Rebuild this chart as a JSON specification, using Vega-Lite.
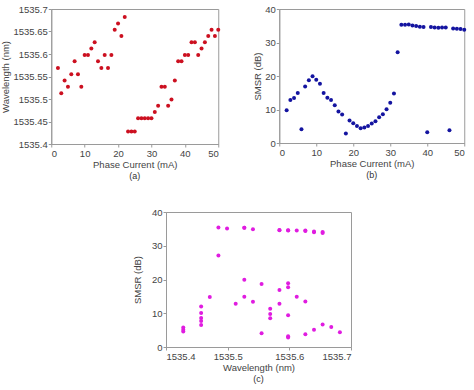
{
  "$schema": "https://vega.github.io/schema/vega-lite/v6.json",
  "padding": {"left": 0, "top": 3, "right": 3, "bottom": 3},
  "background": "white",
  "data": {"values": [
    {"current": 2, "wl": 1535.569, "smsr": 9.8},
    {"current": 3, "wl": 1535.513, "smsr": 12.8},
    {"current": 4, "wl": 1535.541, "smsr": 13.4},
    {"current": 5, "wl": 1535.527, "smsr": 14.9},
    {"current": 6, "wl": 1535.555, "smsr": 4.1},
    {"current": 7, "wl": 1535.584, "smsr": 16.9},
    {"current": 8, "wl": 1535.555, "smsr": 18.7},
    {"current": 9, "wl": 1535.527, "smsr": 19.9},
    {"current": 10, "wl": 1535.598, "smsr": 18.9},
    {"current": 11, "wl": 1535.598, "smsr": 17.7},
    {"current": 12, "wl": 1535.612, "smsr": 14.9},
    {"current": 13, "wl": 1535.626, "smsr": 13.5},
    {"current": 14, "wl": 1535.584, "smsr": 12.8},
    {"current": 15, "wl": 1535.569, "smsr": 11.3},
    {"current": 16, "wl": 1535.598, "smsr": 9.4},
    {"current": 17, "wl": 1535.569, "smsr": 8.5},
    {"current": 18, "wl": 1535.598, "smsr": 2.8},
    {"current": 19, "wl": 1535.654, "smsr": 6.7},
    {"current": 20, "wl": 1535.668, "smsr": 5.9},
    {"current": 21, "wl": 1535.640, "smsr": 5.1},
    {"current": 22, "wl": 1535.682, "smsr": 4.4},
    {"current": 23, "wl": 1535.428, "smsr": 4.6},
    {"current": 24, "wl": 1535.428, "smsr": 5.1},
    {"current": 25, "wl": 1535.428, "smsr": 5.8},
    {"current": 26, "wl": 1535.457, "smsr": 6.5},
    {"current": 27, "wl": 1535.457, "smsr": 7.7},
    {"current": 28, "wl": 1535.457, "smsr": 8.6},
    {"current": 29, "wl": 1535.457, "smsr": 10.1},
    {"current": 30, "wl": 1535.457, "smsr": 12.0},
    {"current": 31, "wl": 1535.471, "smsr": 14.8},
    {"current": 32, "wl": 1535.485, "smsr": 27.1},
    {"current": 33, "wl": 1535.527, "smsr": 35.3},
    {"current": 34, "wl": 1535.527, "smsr": 35.3},
    {"current": 35, "wl": 1535.485, "smsr": 35.4},
    {"current": 36, "wl": 1535.499, "smsr": 35.1},
    {"current": 37, "wl": 1535.541, "smsr": 34.9},
    {"current": 38, "wl": 1535.584, "smsr": 34.7},
    {"current": 39, "wl": 1535.584, "smsr": 34.6},
    {"current": 40, "wl": 1535.598, "smsr": 3.2},
    {"current": 41, "wl": 1535.598, "smsr": 34.6},
    {"current": 42, "wl": 1535.626, "smsr": 34.5},
    {"current": 43, "wl": 1535.626, "smsr": 34.4},
    {"current": 44, "wl": 1535.598, "smsr": 34.5},
    {"current": 45, "wl": 1535.612, "smsr": 34.5},
    {"current": 46, "wl": 1535.626, "smsr": 3.8},
    {"current": 47, "wl": 1535.640, "smsr": 34.2},
    {"current": 48, "wl": 1535.654, "smsr": 34.1},
    {"current": 49, "wl": 1535.640, "smsr": 34.0},
    {"current": 50, "wl": 1535.654, "smsr": 33.8}
  ]},
  "config": {
    "font": "Liberation Sans",
    "view": {"stroke": "#9a9a9a", "strokeWidth": 1},
    "axis": {
      "grid": false,
      "labelFontSize": 9.5,
      "titleFontSize": 9.5,
      "titleFontWeight": "normal",
      "labelColor": "#444",
      "titleColor": "#444",
      "domainColor": "#9a9a9a",
      "tickColor": "#9a9a9a",
      "tickSize": 3,
      "labelPadding": 1,
      "titlePadding": 2
    },
    "title": {"fontSize": 9, "fontWeight": "normal", "color": "#333", "orient": "bottom", "offset": 3}
  },
  "center": true,
  "spacing": 24,
  "vconcat": [
    {
      "spacing": 30,
      "hconcat": [
        {
          "width": 167,
          "height": 135,
          "title": "(a)",
          "mark": {"type": "circle", "size": 16, "opacity": 1, "color": "#cc1020"},
          "encoding": {
            "x": {"field": "current", "type": "quantitative", "title": "Phase Current (mA)",
                  "scale": {"domain": [0, 50], "nice": false},
                  "axis": {"values": [0, 10, 20, 30, 40, 50]}},
            "y": {"field": "wl", "type": "quantitative", "title": "Wavelength  (nm)",
                  "scale": {"domain": [1535.4, 1535.7], "nice": false, "zero": false},
                  "axis": {"values": [1535.4, 1535.45, 1535.5, 1535.55, 1535.6, 1535.65, 1535.7], "format": ".2~f"}}
          }
        },
        {
          "width": 185,
          "height": 134,
          "title": "(b)",
          "mark": {"type": "circle", "size": 16, "opacity": 1, "color": "#1414a0"},
          "encoding": {
            "x": {"field": "current", "type": "quantitative", "title": "Phase Current (mA)",
                  "scale": {"domain": [0, 50], "nice": false},
                  "axis": {"values": [0, 10, 20, 30, 40, 50]}},
            "y": {"field": "smsr", "type": "quantitative", "title": "SMSR  (dB)",
                  "scale": {"domain": [0, 40], "nice": false},
                  "axis": {"values": [0, 10, 20, 30, 40]}}
          }
        }
      ]
    },
    {
      "width": 185,
      "height": 135,
      "title": "(c)",
      "mark": {"type": "circle", "size": 16, "opacity": 1, "color": "#e01ce0"},
      "encoding": {
        "x": {"field": "wl", "type": "quantitative", "title": "Wavelength (nm)",
              "scale": {"domain": [1535.4, 1535.7], "nice": false, "zero": false},
              "axis": {"values": [1535.4, 1535.5, 1535.6, 1535.7], "format": ".1f"}},
        "y": {"field": "smsr", "type": "quantitative", "title": "SMSR  (dB)",
              "scale": {"domain": [0, 40], "nice": false},
              "axis": {"values": [0, 10, 20, 30, 40], "minExtent": 54, "titlePadding": -30}}
      }
    }
  ]
}
